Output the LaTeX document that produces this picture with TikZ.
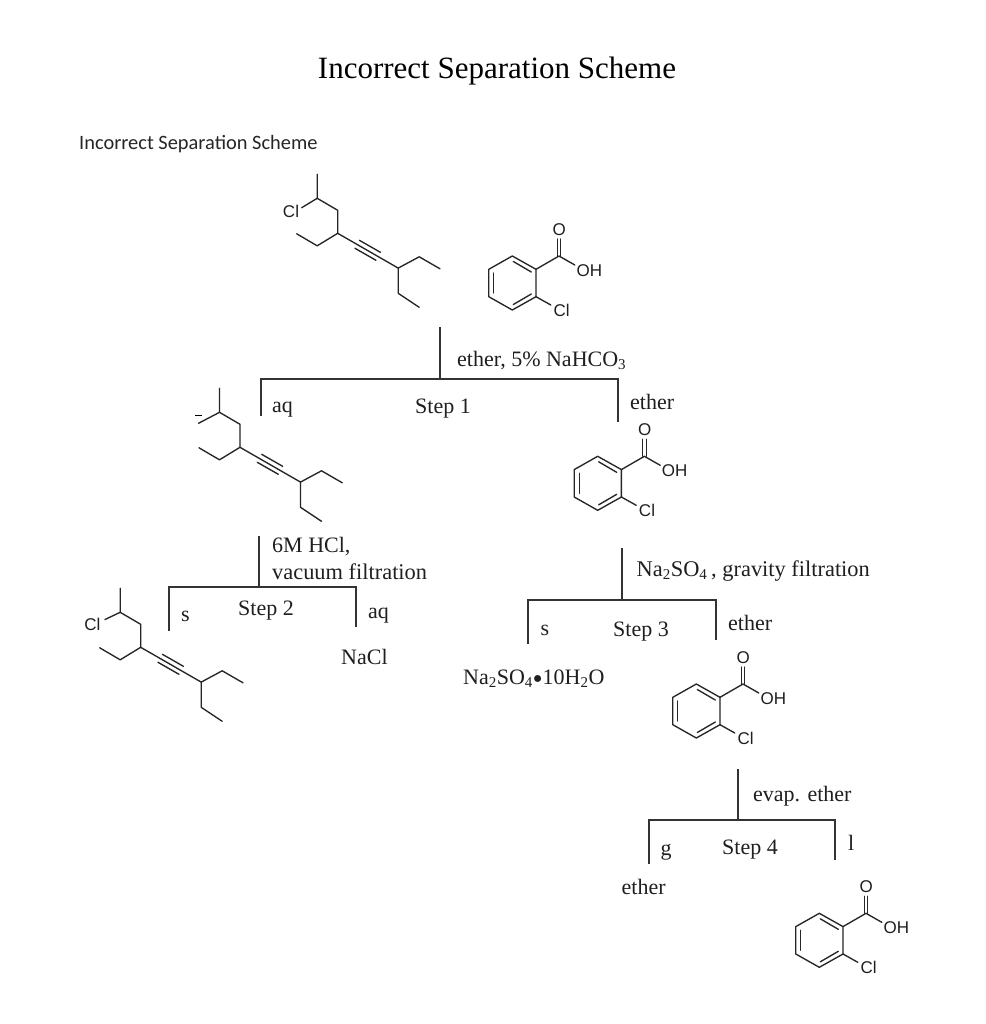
\documentclass[tikz,border=0pt]{standalone}
\usepackage{fontspec}
\setmainfont{Liberation Serif}
\newfontfamily\molfont{Liberation Sans}
\newfontfamily\subfont{Carlito}
\newcommand{\subd}[1]{$_{\mbox{\fontsize{15}{15}\selectfont #1}}$}
\tikzset{
 bond/.style={line width=1.35pt,color=black!85,line cap=round,line join=round},
 tree/.style={line width=1.6pt,color=black!80,line join=miter},
 atom/.style={font=\molfont\fontsize{17}{17}\selectfont,inner sep=0pt,text=black!88},
 lab/.style={font=\fontsize{22}{24}\selectfont,inner sep=0pt,text=black!88,anchor=base west,align=left},
 alkynechain/.pic={
  \coordinate (c) at (0,0); \coordinate (ch2) at (0,-23); \coordinate (ch) at (-20.5,-35);
  \coordinate (me) at (-20.5,-59); \coordinate (e1) at (-20.5,12.5); \coordinate (e2) at (-41,0.5);
  \coordinate (r) at (60.5,34.8); \coordinate (r1) at (81.5,23.5); \coordinate (r2) at (102.3,35.5);
  \coordinate (r3) at (60.5,60); \coordinate (r4) at (81.5,74);
  \coordinate (u1) at (21.7,7); \coordinate (u2) at (42.7,19); \coordinate (l1) at (17.3,15); \coordinate (l2) at (38.3,27);
  \draw[bond] (me) -- (ch) -- (ch2) -- (c) -- (e1) -- (e2);
  \draw[bond] (c) -- (r) -- (r1) -- (r2);
  \draw[bond] (r) -- (r3) -- (r4);
  \draw[bond] (u1) -- (u2);
  \draw[bond] (l1) -- (l2);
 },
 benzoic/.pic={
  \coordinate (a) at (0,-27); \coordinate (b) at (23.7,-13.7); \coordinate (d) at (23.7,13.7);
  \coordinate (f) at (0,27); \coordinate (g) at (-23.5,13.7); \coordinate (h) at (-23.5,-13.7);
  \coordinate (cc) at (46.7,-27); \coordinate (oh) at (62.5,-18); \coordinate (cl) at (38.5,22);
  \draw[bond] (a) -- (b) -- (d) -- (f) -- (g) -- (h) -- cycle;
  \draw[bond] (-18.5,-10) -- (-18.5,10);
  \draw[bond] (1,-21.5) -- (19,-11);
  \draw[bond] (1,21.5) -- (19,11);
  \draw[bond] (b) -- (cc) -- (oh);
  \draw[bond] (d) -- (cl);
  \draw[bond] (44.9,-27) -- (44.9,-44);
  \draw[bond] (48.5,-27) -- (48.5,-44);
  \node[atom] (o) at (47,-53.7) {O};
  \node[atom] (hy) at (77,-12.7) {OH};
  \node[atom] (clx) at (49.3,27.5) {Cl};
 },
}
\begin{document}
\begin{tikzpicture}[x=1pt,y=-1pt]
\useasboundingbox (0,0) rectangle (985,1024);
\fill[white] (0,0) rectangle (985,1024);
\node[inner sep=0pt,anchor=base,font=\fontsize{31}{34}\selectfont] (title) at (497,78.5) {Incorrect Separation Scheme};
\node[inner sep=0pt,anchor=base west,font=\subfont\fontsize{20.4}{22}\selectfont,text=black!85] (sub) at (79,150) {Incorrect Separation Scheme};

% molecules
\pic (ma-) at (337.7,233.3) {alkynechain};
\coordinate (clAend) at (301.7,207.7);
\draw[bond] (ma-ch) -- (clAend);
\node[atom] (clA) at (291,211) {Cl};
\pic (ba-) at (512.3,283) {benzoic};

\pic (mb-) at (240,447.3) {alkynechain};
\coordinate (clBend) at (198.5,423.3);
\draw[bond] (mb-ch) -- (clBend);
\node[inner sep=0pt] (minus) at (198.5,415.5) {\rule{7pt}{1.3pt}};

\pic (bb-) at (597.7,483.3) {benzoic};

\pic (mc-) at (140.7,647.3) {alkynechain};
\coordinate (clCend) at (105,619.5);
\draw[bond] (mc-ch) -- (clCend);
\node[atom] (clC) at (92.3,624.3) {Cl};

\pic (bc-) at (696.3,711) {benzoic};
\pic (bd-) at (819.3,940.3) {benzoic};

% step 1
\coordinate (t1) at (440,327); \coordinate (j1) at (440,379);
\coordinate (l1) at (261,379); \coordinate (r1) at (618,379);
\coordinate (le1) at (261,416); \coordinate (re1) at (618,422);
\draw[tree] (t1) -- (j1);
\draw[tree] (le1) -- (l1) -- (r1) -- (re1);
% step 2
\coordinate (t2) at (259,536); \coordinate (j2) at (259,587);
\coordinate (l2) at (169,587); \coordinate (r2) at (356,587);
\coordinate (le2) at (169,631); \coordinate (re2) at (356,627);
\draw[tree] (t2) -- (j2);
\draw[tree] (le2) -- (l2) -- (r2) -- (re2);
% step 3
\coordinate (t3) at (622,548); \coordinate (j3) at (622,600);
\coordinate (l3) at (528,600); \coordinate (r3) at (716,600);
\coordinate (le3) at (528,644); \coordinate (re3) at (716,640);
\draw[tree] (t3) -- (j3);
\draw[tree] (le3) -- (l3) -- (r3) -- (re3);
% step 4
\coordinate (t4) at (738,769); \coordinate (j4) at (738,820);
\coordinate (l4) at (649,820); \coordinate (r4) at (835,820);
\coordinate (le4) at (649,864); \coordinate (re4) at (835,860);
\draw[tree] (t4) -- (j4);
\draw[tree] (le4) -- (l4) -- (r4) -- (re4);

% labels
\node[lab] (n1) at (457,366) {ether, 5\% NaHCO\subd{3}};
\node[lab] (n2) at (272,412) {aq};
\node[lab] (n3) at (415,413) {Step 1};
\node[lab] (n4) at (630,409) {ether};
\node[lab] (n5) at (272,552) {6M HCl,};
\node[lab,font=\fontsize{22.4}{24}\selectfont] (n6) at (272,579) {vacuum filtration};
\node[lab] (n7) at (238,615) {Step 2};
\node[lab] (n8) at (181,621.5) {s};
\node[lab] (n9) at (368,618) {aq};
\node[lab] (n10) at (341,664) {NaCl};
\node[lab,font=\fontsize{22.4}{24}\selectfont] (n11) at (636.5,576.5) {Na\subd{2}SO\subd{4}\,, gravity filtration};
\node[lab] (n12) at (540.5,635) {s};
\node[lab] (n13) at (613,636.5) {Step 3};
\node[lab] (n14) at (728,630) {ether};
\node[lab] (n15) at (463,684.5) {Na\subd{2}SO\subd{4}\raisebox{0.1ex}{\fontsize{16}{16}\selectfont\molfont●}10H\subd{2}O};
\node[lab] (n16) at (753,801) {evap. ether};
\node[lab] (n17) at (660.5,855.5) {g};
\node[lab] (n18) at (722,854) {Step 4};
\node[lab] (n19) at (848,850) {l};
\node[lab] (n20) at (621.5,894) {ether};
\end{tikzpicture}
\end{document}
